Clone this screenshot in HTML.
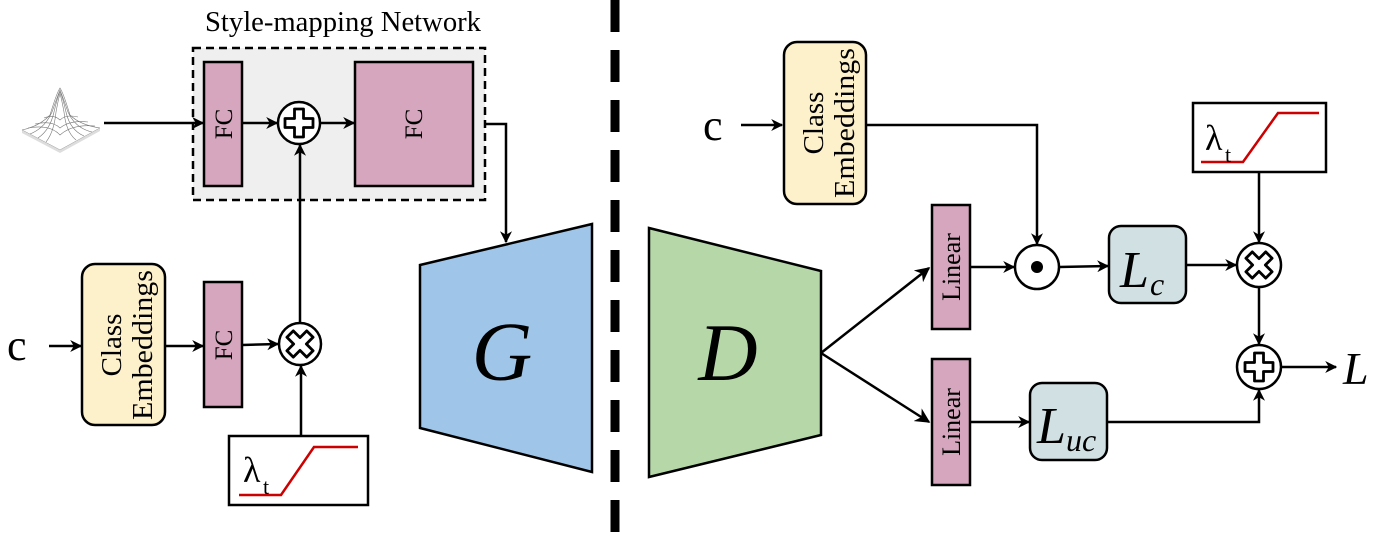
<!DOCTYPE html>
<html><head><meta charset="utf-8"><style>
html,body{margin:0;padding:0;background:#fff;}
svg{display:block;}
text{font-family:"Liberation Serif","Times New Roman",serif;}
</style></head><body>
<svg width="1380" height="550" viewBox="0 0 1380 550" xmlns="http://www.w3.org/2000/svg">
<defs>
<marker id="a" viewBox="0 0 10 10" refX="9" refY="5" markerWidth="12" markerHeight="12" markerUnits="userSpaceOnUse" orient="auto">
<path d="M0,0 L10,5 L0,10 L3,5 z" fill="#000"/></marker>
<marker id="b" viewBox="0 0 10 10" refX="9" refY="5" markerWidth="15" markerHeight="15" markerUnits="userSpaceOnUse" orient="auto">
<path d="M0,0 L10,5 L0,10 L3,5 z" fill="#000"/></marker>
<g id="plus"><path d="M-4.5,-14 H4.5 V-4.5 H14 V4.5 H4.5 V14 H-4.5 V4.5 H-14 V-4.5 H-4.5 Z" fill="#fff" stroke="#000" stroke-width="2.8" stroke-linejoin="round"/></g>
</defs>

<!-- gaussian -->
<g stroke="#777" stroke-width="0.6" fill="none">
<path d="M22,130 L60,150 L100,128"/>
<path d="M22,130 Q40,126 50,115 Q57,92 60,88 Q63,92 70,115 Q80,125 100,128"/>
<path d="M30,134 Q45,128 52,112 Q58,95 60,90 Q62,95 68,112 Q75,128 92,132"/>
<path d="M38,138 Q50,130 54,112 Q58,95 60,92 Q62,95 66,112 Q70,130 84,136"/>
<path d="M46,142 Q54,132 56,112 Q59,96 60,94 Q61,96 64,112 Q66,132 76,140"/>
<path d="M28,128 Q50,124 60,135 Q72,124 95,126"/>
<path d="M35,124 Q52,120 60,128 Q70,120 88,122"/>
<path d="M44,118 Q54,114 60,120 Q66,114 78,117"/>
</g>
<g fill="#ddd"><path d="M22,130 L60,150 L100,128 L100,131 L60,153 L22,133z"/></g>

<!-- Style-mapping -->
<text x="343" y="31" font-size="28" text-anchor="middle" textLength="276" lengthAdjust="spacingAndGlyphs">Style-mapping Network</text>
<rect x="193" y="48" width="292" height="152" fill="#efefef" stroke="#000" stroke-width="2.5" stroke-dasharray="8,5"/>
<rect x="204" y="62" width="38" height="124" fill="#d5a6bd" stroke="#000" stroke-width="2.5"/>
<text transform="translate(232,124) rotate(-90)" font-size="25" text-anchor="middle">FC</text>
<rect x="355" y="62" width="118" height="124" fill="#d5a6bd" stroke="#000" stroke-width="2.5"/>
<text transform="translate(422,124) rotate(-90)" font-size="25" text-anchor="middle">FC</text>
<g stroke="#000" stroke-width="2.5" fill="none">
<line x1="104" y1="123" x2="203" y2="123" marker-end="url(#a)"/>
<line x1="242" y1="123" x2="277" y2="123" marker-end="url(#a)"/>
<line x1="321" y1="123" x2="354" y2="123" marker-end="url(#a)"/>
<polyline points="485,124 506,124 506,242" marker-end="url(#a)"/>
</g>
<circle cx="299" cy="123" r="21" fill="#fff" stroke="#000" stroke-width="2.5"/>
<use href="#plus" x="299" y="123"/>

<!-- left bottom -->
<text x="7" y="360" font-size="44">c</text>
<rect x="82" y="264" width="83" height="161" rx="13" fill="#fdf1cc" stroke="#000" stroke-width="2.5"/>
<text transform="translate(121,345) rotate(-90)" font-size="29" text-anchor="middle">Class</text>
<text transform="translate(152,345) rotate(-90)" font-size="29" text-anchor="middle" textLength="150" lengthAdjust="spacingAndGlyphs">Embeddings</text>
<rect x="204" y="282" width="38" height="125" fill="#d5a6bd" stroke="#000" stroke-width="2.5"/>
<text transform="translate(232,345) rotate(-90)" font-size="25" text-anchor="middle">FC</text>
<g stroke="#000" stroke-width="2.5" fill="none">
<line x1="49" y1="346" x2="81" y2="346" marker-end="url(#a)"/>
<line x1="165" y1="346" x2="203" y2="346" marker-end="url(#a)"/>
<line x1="242" y1="345" x2="278" y2="344" marker-end="url(#a)"/>
<line x1="300" y1="323" x2="300" y2="145" marker-end="url(#a)"/>
<line x1="301" y1="436" x2="301" y2="366" marker-end="url(#a)"/>
</g>
<circle cx="300" cy="344" r="21" fill="#fff" stroke="#000" stroke-width="2.5"/>
<use href="#plus" transform="translate(300,344) rotate(45)"/>
<rect x="229" y="436" width="139" height="69" fill="#fff" stroke="#000" stroke-width="2.5"/>
<polyline points="239,495 281,495 314,447 358,447" fill="none" stroke="#c00" stroke-width="2.5"/>
<text x="243" y="482" font-size="36">λ</text><text x="263" y="494" font-size="22">t</text>

<!-- G -->
<polygon points="420,265 592,224 592,472 420,428" fill="#9fc5e8" stroke="#000" stroke-width="2.5"/>
<text x="502" y="380" font-size="84" font-style="italic" text-anchor="middle">G</text>

<!-- divider -->
<line x1="615" y1="0" x2="615" y2="550" stroke="#000" stroke-width="9" stroke-dasharray="32,18"/>

<!-- D -->
<polygon points="649,228 821,271 821,435 649,477" fill="#b6d7a8" stroke="#000" stroke-width="2.5"/>
<text x="728" y="380" font-size="82" font-style="italic" text-anchor="middle">D</text>

<!-- right top -->
<text x="703" y="140" font-size="44">c</text>
<rect x="784" y="42" width="82" height="162" rx="13" fill="#fdf1cc" stroke="#000" stroke-width="2.5"/>
<text transform="translate(823,123) rotate(-90)" font-size="29" text-anchor="middle">Class</text>
<text transform="translate(854,123) rotate(-90)" font-size="29" text-anchor="middle" textLength="150" lengthAdjust="spacingAndGlyphs">Embeddings</text>
<rect x="932" y="205" width="38" height="124" fill="#d5a6bd" stroke="#000" stroke-width="2.5"/>
<text transform="translate(960,267) rotate(-90)" font-size="26" text-anchor="middle">Linear</text>
<rect x="932" y="359" width="38" height="126" fill="#d5a6bd" stroke="#000" stroke-width="2.5"/>
<text transform="translate(960,422) rotate(-90)" font-size="26" text-anchor="middle">Linear</text>
<rect x="1109" y="226" width="77" height="77" rx="12" fill="#d0e0e3" stroke="#000" stroke-width="2.5"/>
<text x="1120" y="287" font-size="52" font-style="italic">L</text><text x="1150" y="295" font-size="32" font-style="italic">c</text>
<rect x="1030" y="383" width="77" height="77" rx="12" fill="#d0e0e3" stroke="#000" stroke-width="2.5"/>
<text x="1037" y="443" font-size="52" font-style="italic">L</text><text x="1066" y="451" font-size="32" font-style="italic">uc</text>

<g stroke="#000" stroke-width="2.5" fill="none">
<line x1="741" y1="125" x2="782" y2="125" marker-end="url(#a)"/>
<polyline points="866,125 1037,125 1037,244" marker-end="url(#a)"/>
<line x1="821" y1="353" x2="929" y2="268" marker-end="url(#b)"/>
<line x1="821" y1="353" x2="929" y2="422" marker-end="url(#b)"/>
<line x1="970" y1="267" x2="1014" y2="267" marker-end="url(#a)"/>
<line x1="1059" y1="267" x2="1108" y2="266" marker-end="url(#a)"/>
<line x1="1186" y1="265" x2="1236" y2="265" marker-end="url(#a)"/>
<line x1="1259" y1="172" x2="1259" y2="242" marker-end="url(#a)"/>
<line x1="1259" y1="287" x2="1259" y2="344" marker-end="url(#a)"/>
<line x1="1281" y1="367" x2="1336" y2="367" marker-end="url(#a)"/>
<line x1="970" y1="422" x2="1029" y2="422" marker-end="url(#a)"/>
<polyline points="1107,422 1259,422 1259,390" marker-end="url(#a)"/>
</g>
<circle cx="1037" cy="267" r="22" fill="#fff" stroke="#000" stroke-width="2.5"/>
<circle cx="1037" cy="267" r="6" fill="#000"/>
<circle cx="1259" cy="265" r="22" fill="#fff" stroke="#000" stroke-width="2.5"/>
<use href="#plus" transform="translate(1259,265) rotate(45)"/>
<circle cx="1259" cy="367" r="22" fill="#fff" stroke="#000" stroke-width="2.5"/>
<use href="#plus" x="1259" y="367"/>
<text x="1343" y="384" font-size="46" font-style="italic">L</text>

<rect x="1193" y="103" width="133" height="69" fill="#fff" stroke="#000" stroke-width="2.5"/>
<polyline points="1201,162 1243,162 1278,113 1319,113" fill="none" stroke="#c00" stroke-width="2.5"/>
<text x="1205" y="150" font-size="36">λ</text><text x="1225" y="162" font-size="22">t</text>
</svg>
</body></html>
